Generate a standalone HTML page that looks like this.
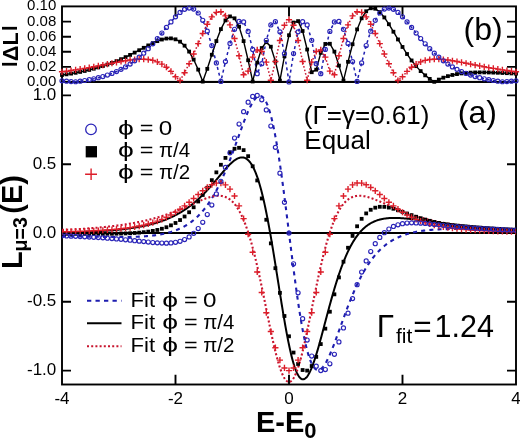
<!DOCTYPE html>
<html><head><meta charset="utf-8"><style>html,body{margin:0;padding:0;background:#fff;overflow:hidden}svg{display:block}text{font-family:"Liberation Sans",Arial,sans-serif;fill:#000}</style></head><body>
<svg width="520" height="438" viewBox="0 0 520 438">
<rect width="520" height="438" fill="#fff"/>
<defs><clipPath id="ca"><rect x="62" y="81.5" width="454" height="303"/></clipPath><clipPath id="cb"><rect x="62" y="5" width="454" height="77"/></clipPath></defs>
<g stroke="#000" stroke-width="1.9" fill="none">
<rect x="62" y="6.4" width="454" height="75.5"/>
<rect x="62" y="81.9" width="454" height="302.6"/>
<path d="M62 66.84h9M516 66.84h-9M62 51.78h9M516 51.78h-9M62 36.72h9M516 36.72h-9M62 21.66h9M516 21.66h-9M62 95.40h9M516 95.40h-9M62 164.20h9M516 164.20h-9M62 233.00h9M516 233.00h-9M62 301.80h9M516 301.80h-9M62 370.60h9M516 370.60h-9M175.50 6.4v10M175.50 384.5v-9.8M289.00 6.4v10M289.00 384.5v-9.8M402.50 6.4v10M402.50 384.5v-9.8"/>
</g>
<line x1="62" y1="233" x2="516" y2="233" stroke="#000" stroke-width="1.8"/>
<g clip-path="url(#ca)">
<polyline fill="none" stroke="#1e1eb0" stroke-width="2.1" stroke-dasharray="4,4.2" points="62.00,236.03 62.57,236.04 63.13,236.05 63.70,236.06 64.27,236.08 64.84,236.09 65.41,236.10 65.97,236.11 66.54,236.13 67.11,236.14 67.68,236.15 68.24,236.17 68.81,236.18 69.38,236.19 69.94,236.20 70.51,236.22 71.08,236.23 71.65,236.24 72.22,236.26 72.78,236.27 73.35,236.28 73.92,236.29 74.49,236.31 75.05,236.32 75.62,236.33 76.19,236.34 76.75,236.36 77.32,236.37 77.89,236.38 78.46,236.40 79.02,236.41 79.59,236.42 80.16,236.43 80.73,236.45 81.29,236.46 81.86,236.47 82.43,236.48 83.00,236.50 83.56,236.51 84.13,236.52 84.70,236.53 85.27,236.55 85.84,236.56 86.40,236.57 86.97,236.58 87.54,236.60 88.10,236.61 88.67,236.62 89.24,236.63 89.81,236.64 90.38,236.66 90.94,236.67 91.51,236.68 92.08,236.69 92.65,236.70 93.21,236.71 93.78,236.72 94.35,236.74 94.91,236.75 95.48,236.76 96.05,236.77 96.62,236.78 97.19,236.79 97.75,236.80 98.32,236.81 98.89,236.82 99.46,236.83 100.02,236.84 100.59,236.85 101.16,236.86 101.73,236.87 102.29,236.88 102.86,236.89 103.43,236.90 104.00,236.90 104.56,236.91 105.13,236.92 105.70,236.93 106.27,236.94 106.83,236.94 107.40,236.95 107.97,236.96 108.54,236.97 109.10,236.97 109.67,236.98 110.24,236.98 110.81,236.99 111.37,237.00 111.94,237.00 112.51,237.01 113.07,237.01 113.64,237.01 114.21,237.02 114.78,237.02 115.34,237.02 115.91,237.03 116.48,237.03 117.05,237.03 117.62,237.03 118.18,237.03 118.75,237.03 119.32,237.03 119.88,237.03 120.45,237.03 121.02,237.03 121.59,237.03 122.16,237.03 122.72,237.03 123.29,237.02 123.86,237.02 124.43,237.01 124.99,237.01 125.56,237.00 126.13,237.00 126.69,236.99 127.26,236.98 127.83,236.97 128.40,236.96 128.96,236.95 129.53,236.94 130.10,236.93 130.67,236.92 131.23,236.91 131.80,236.89 132.37,236.88 132.94,236.86 133.50,236.85 134.07,236.83 134.64,236.81 135.21,236.79 135.77,236.77 136.34,236.75 136.91,236.73 137.48,236.71 138.04,236.68 138.61,236.66 139.18,236.63 139.75,236.60 140.31,236.57 140.88,236.54 141.45,236.51 142.02,236.48 142.59,236.44 143.15,236.41 143.72,236.37 144.29,236.33 144.85,236.29 145.42,236.25 145.99,236.21 146.56,236.16 147.12,236.12 147.69,236.07 148.26,236.02 148.83,235.97 149.40,235.91 149.96,235.86 150.53,235.80 151.10,235.74 151.66,235.68 152.23,235.62 152.80,235.55 153.37,235.48 153.94,235.41 154.50,235.34 155.07,235.27 155.64,235.19 156.21,235.11 156.77,235.03 157.34,234.95 157.91,234.86 158.48,234.77 159.04,234.68 159.61,234.58 160.18,234.48 160.75,234.38 161.31,234.28 161.88,234.17 162.45,234.06 163.02,233.95 163.58,233.83 164.15,233.71 164.72,233.58 165.29,233.46 165.85,233.33 166.42,233.19 166.99,233.05 167.56,232.91 168.12,232.76 168.69,232.61 169.26,232.46 169.83,232.30 170.39,232.13 170.96,231.96 171.53,231.79 172.09,231.61 172.66,231.43 173.23,231.24 173.80,231.05 174.37,230.85 174.93,230.65 175.50,230.44 176.07,230.22 176.63,230.00 177.20,229.78 177.77,229.55 178.34,229.31 178.91,229.06 179.47,228.81 180.04,228.56 180.61,228.29 181.18,228.02 181.74,227.75 182.31,227.46 182.88,227.17 183.44,226.87 184.01,226.56 184.58,226.25 185.15,225.93 185.72,225.60 186.28,225.26 186.85,224.91 187.42,224.56 187.99,224.19 188.55,223.82 189.12,223.44 189.69,223.05 190.25,222.65 190.82,222.24 191.39,221.82 191.96,221.39 192.53,220.95 193.09,220.50 193.66,220.03 194.23,219.56 194.79,219.08 195.36,218.58 195.93,218.08 196.50,217.56 197.06,217.03 197.63,216.49 198.20,215.93 198.77,215.37 199.33,214.79 199.90,214.20 200.47,213.59 201.04,212.97 201.61,212.34 202.17,211.69 202.74,211.03 203.31,210.36 203.88,209.67 204.44,208.97 205.01,208.25 205.58,207.52 206.14,206.77 206.71,206.00 207.28,205.22 207.85,204.43 208.42,203.62 208.98,202.79 209.55,201.94 210.12,201.08 210.69,200.20 211.25,199.31 211.82,198.40 212.39,197.47 212.96,196.52 213.52,195.55 214.09,194.57 214.66,193.57 215.23,192.55 215.79,191.52 216.36,190.46 216.93,189.39 217.50,188.30 218.06,187.19 218.63,186.06 219.20,184.91 219.77,183.75 220.33,182.57 220.90,181.37 221.47,180.15 222.03,178.91 222.60,177.65 223.17,176.38 223.74,175.09 224.31,173.78 224.87,172.45 225.44,171.11 226.01,169.75 226.57,168.37 227.14,166.98 227.71,165.57 228.28,164.15 228.84,162.71 229.41,161.26 229.98,159.79 230.55,158.31 231.12,156.82 231.68,155.31 232.25,153.80 232.82,152.27 233.38,150.73 233.95,149.19 234.52,147.64 235.09,146.08 235.66,144.51 236.22,142.94 236.79,141.37 237.36,139.79 237.93,138.21 238.49,136.63 239.06,135.06 239.63,133.48 240.19,131.91 240.76,130.35 241.33,128.79 241.90,127.25 242.47,125.71 243.03,124.19 243.60,122.68 244.17,121.19 244.74,119.72 245.30,118.27 245.87,116.84 246.44,115.43 247.00,114.06 247.57,112.71 248.14,111.40 248.71,110.12 249.28,108.88 249.84,107.68 250.41,106.52 250.98,105.40 251.54,104.33 252.11,103.32 252.68,102.35 253.25,101.45 253.81,100.60 254.38,99.81 254.95,99.09 255.52,98.43 256.08,97.85 256.65,97.33 257.22,96.90 257.79,96.54 258.36,96.26 258.92,96.07 259.49,95.97 260.06,95.95 260.62,96.03 261.19,96.20 261.76,96.47 262.33,96.84 262.89,97.31 263.46,97.88 264.03,98.56 264.60,99.35 265.17,100.25 265.73,101.26 266.30,102.39 266.87,103.63 267.44,104.98 268.00,106.45 268.57,108.04 269.14,109.75 269.70,111.58 270.27,113.53 270.84,115.59 271.41,117.78 271.98,120.08 272.54,122.51 273.11,125.05 273.68,127.70 274.25,130.47 274.81,133.36 275.38,136.35 275.95,139.46 276.51,142.67 277.08,145.99 277.65,149.41 278.22,152.93 278.79,156.54 279.35,160.25 279.92,164.04 280.49,167.92 281.06,171.88 281.62,175.92 282.19,180.03 282.76,184.20 283.32,188.43 283.89,192.73 284.46,197.07 285.03,201.46 285.59,205.89 286.16,210.35 286.73,214.85 287.30,219.36 287.87,223.90 288.43,228.45 289.00,233.00 289.57,237.55 290.14,242.10 290.70,246.64 291.27,251.15 291.84,255.65 292.41,260.11 292.97,264.54 293.54,268.93 294.11,273.27 294.67,277.57 295.24,281.80 295.81,285.97 296.38,290.08 296.94,294.12 297.51,298.08 298.08,301.96 298.65,305.75 299.21,309.46 299.78,313.07 300.35,316.59 300.92,320.01 301.49,323.33 302.05,326.54 302.62,329.65 303.19,332.64 303.75,335.53 304.32,338.30 304.89,340.95 305.46,343.49 306.02,345.92 306.59,348.22 307.16,350.41 307.73,352.47 308.30,354.42 308.86,356.25 309.43,357.96 310.00,359.55 310.56,361.02 311.13,362.37 311.70,363.61 312.27,364.74 312.83,365.75 313.40,366.65 313.97,367.44 314.54,368.12 315.11,368.69 315.67,369.16 316.24,369.53 316.81,369.80 317.38,369.97 317.94,370.05 318.51,370.03 319.08,369.93 319.64,369.74 320.21,369.46 320.78,369.10 321.35,368.67 321.92,368.15 322.48,367.57 323.05,366.91 323.62,366.19 324.19,365.40 324.75,364.55 325.32,363.65 325.89,362.68 326.45,361.67 327.02,360.60 327.59,359.48 328.16,358.32 328.73,357.12 329.29,355.88 329.86,354.60 330.43,353.29 331.00,351.94 331.56,350.57 332.13,349.16 332.70,347.73 333.26,346.28 333.83,344.81 334.40,343.32 334.97,341.81 335.54,340.29 336.10,338.75 336.67,337.21 337.24,335.65 337.81,334.09 338.37,332.52 338.94,330.94 339.51,329.37 340.08,327.79 340.64,326.21 341.21,324.63 341.78,323.06 342.35,321.49 342.91,319.92 343.48,318.36 344.05,316.81 344.62,315.27 345.18,313.73 345.75,312.20 346.32,310.69 346.89,309.18 347.45,307.69 348.02,306.21 348.59,304.74 349.16,303.29 349.72,301.85 350.29,300.43 350.86,299.02 351.43,297.63 351.99,296.25 352.56,294.89 353.13,293.55 353.69,292.22 354.26,290.91 354.83,289.62 355.40,288.35 355.96,287.09 356.53,285.85 357.10,284.63 357.67,283.43 358.24,282.25 358.80,281.09 359.37,279.94 359.94,278.81 360.50,277.70 361.07,276.61 361.64,275.54 362.21,274.48 362.77,273.45 363.34,272.43 363.91,271.43 364.48,270.45 365.04,269.48 365.61,268.53 366.18,267.60 366.75,266.69 367.31,265.80 367.88,264.92 368.45,264.06 369.02,263.21 369.58,262.38 370.15,261.57 370.72,260.78 371.29,260.00 371.86,259.23 372.42,258.48 372.99,257.75 373.56,257.03 374.12,256.33 374.69,255.64 375.26,254.97 375.83,254.31 376.39,253.66 376.96,253.03 377.53,252.41 378.10,251.80 378.67,251.21 379.23,250.63 379.80,250.07 380.37,249.51 380.94,248.97 381.50,248.44 382.07,247.92 382.64,247.42 383.21,246.92 383.77,246.44 384.34,245.97 384.91,245.50 385.48,245.05 386.04,244.61 386.61,244.18 387.18,243.76 387.75,243.35 388.31,242.95 388.88,242.56 389.45,242.18 390.01,241.81 390.58,241.44 391.15,241.09 391.72,240.74 392.29,240.40 392.85,240.07 393.42,239.75 393.99,239.44 394.56,239.13 395.12,238.83 395.69,238.54 396.26,238.25 396.83,237.98 397.39,237.71 397.96,237.44 398.53,237.19 399.10,236.94 399.66,236.69 400.23,236.45 400.80,236.22 401.37,236.00 401.93,235.78 402.50,235.56 403.07,235.35 403.63,235.15 404.20,234.95 404.77,234.76 405.34,234.57 405.91,234.39 406.47,234.21 407.04,234.04 407.61,233.87 408.18,233.70 408.74,233.54 409.31,233.39 409.88,233.24 410.45,233.09 411.01,232.95 411.58,232.81 412.15,232.67 412.71,232.54 413.28,232.42 413.85,232.29 414.42,232.17 414.99,232.05 415.55,231.94 416.12,231.83 416.69,231.72 417.25,231.62 417.82,231.52 418.39,231.42 418.96,231.32 419.52,231.23 420.09,231.14 420.66,231.05 421.23,230.97 421.79,230.89 422.36,230.81 422.93,230.73 423.50,230.66 424.06,230.59 424.63,230.52 425.20,230.45 425.77,230.38 426.34,230.32 426.90,230.26 427.47,230.20 428.04,230.14 428.61,230.09 429.17,230.03 429.74,229.98 430.31,229.93 430.88,229.88 431.44,229.84 432.01,229.79 432.58,229.75 433.14,229.71 433.71,229.67 434.28,229.63 434.85,229.59 435.41,229.56 435.98,229.52 436.55,229.49 437.12,229.46 437.69,229.43 438.25,229.40 438.82,229.37 439.39,229.34 439.96,229.32 440.52,229.29 441.09,229.27 441.66,229.25 442.23,229.23 442.79,229.21 443.36,229.19 443.93,229.17 444.50,229.15 445.06,229.14 445.63,229.12 446.20,229.11 446.76,229.09 447.33,229.08 447.90,229.07 448.47,229.06 449.04,229.05 449.60,229.04 450.17,229.03 450.74,229.02 451.31,229.01 451.87,229.00 452.44,229.00 453.01,228.99 453.58,228.99 454.14,228.98 454.71,228.98 455.28,228.97 455.85,228.97 456.41,228.97 456.98,228.97 457.55,228.97 458.12,228.97 458.68,228.97 459.25,228.97 459.82,228.97 460.38,228.97 460.95,228.97 461.52,228.97 462.09,228.97 462.66,228.98 463.22,228.98 463.79,228.98 464.36,228.99 464.93,228.99 465.49,228.99 466.06,229.00 466.63,229.00 467.20,229.01 467.76,229.02 468.33,229.02 468.90,229.03 469.46,229.03 470.03,229.04 470.60,229.05 471.17,229.06 471.74,229.06 472.30,229.07 472.87,229.08 473.44,229.09 474.00,229.10 474.57,229.10 475.14,229.11 475.71,229.12 476.27,229.13 476.84,229.14 477.41,229.15 477.98,229.16 478.54,229.17 479.11,229.18 479.68,229.19 480.25,229.20 480.81,229.21 481.38,229.22 481.95,229.23 482.52,229.24 483.09,229.25 483.65,229.26 484.22,229.28 484.79,229.29 485.36,229.30 485.92,229.31 486.49,229.32 487.06,229.33 487.62,229.34 488.19,229.36 488.76,229.37 489.33,229.38 489.89,229.39 490.46,229.40 491.03,229.42 491.60,229.43 492.16,229.44 492.73,229.45 493.30,229.47 493.87,229.48 494.44,229.49 495.00,229.50 495.57,229.52 496.14,229.53 496.71,229.54 497.27,229.55 497.84,229.57 498.41,229.58 498.98,229.59 499.54,229.60 500.11,229.62 500.68,229.63 501.25,229.64 501.81,229.66 502.38,229.67 502.95,229.68 503.51,229.69 504.08,229.71 504.65,229.72 505.22,229.73 505.79,229.74 506.35,229.76 506.92,229.77 507.49,229.78 508.06,229.80 508.62,229.81 509.19,229.82 509.76,229.83 510.33,229.85 510.89,229.86 511.46,229.87 512.03,229.89 512.60,229.90 513.16,229.91 513.73,229.92 514.30,229.94 514.87,229.95 515.43,229.96 516.00,229.97"/>
<polyline fill="none" stroke="#000" stroke-width="2" points="62.00,232.52 62.57,232.51 63.13,232.50 63.70,232.49 64.27,232.48 64.84,232.46 65.41,232.45 65.97,232.44 66.54,232.42 67.11,232.41 67.68,232.40 68.24,232.38 68.81,232.37 69.38,232.35 69.94,232.34 70.51,232.32 71.08,232.31 71.65,232.29 72.22,232.28 72.78,232.26 73.35,232.25 73.92,232.23 74.49,232.21 75.05,232.20 75.62,232.18 76.19,232.16 76.75,232.14 77.32,232.13 77.89,232.11 78.46,232.09 79.02,232.07 79.59,232.05 80.16,232.03 80.73,232.01 81.29,231.99 81.86,231.97 82.43,231.95 83.00,231.93 83.56,231.91 84.13,231.89 84.70,231.86 85.27,231.84 85.84,231.82 86.40,231.80 86.97,231.77 87.54,231.75 88.10,231.73 88.67,231.70 89.24,231.68 89.81,231.65 90.38,231.63 90.94,231.60 91.51,231.57 92.08,231.55 92.65,231.52 93.21,231.49 93.78,231.46 94.35,231.43 94.91,231.40 95.48,231.37 96.05,231.34 96.62,231.31 97.19,231.28 97.75,231.25 98.32,231.22 98.89,231.19 99.46,231.15 100.02,231.12 100.59,231.09 101.16,231.05 101.73,231.02 102.29,230.98 102.86,230.94 103.43,230.91 104.00,230.87 104.56,230.83 105.13,230.79 105.70,230.75 106.27,230.71 106.83,230.67 107.40,230.63 107.97,230.59 108.54,230.55 109.10,230.50 109.67,230.46 110.24,230.41 110.81,230.37 111.37,230.32 111.94,230.28 112.51,230.23 113.07,230.18 113.64,230.13 114.21,230.08 114.78,230.03 115.34,229.98 115.91,229.93 116.48,229.87 117.05,229.82 117.62,229.76 118.18,229.71 118.75,229.65 119.32,229.59 119.88,229.53 120.45,229.47 121.02,229.41 121.59,229.35 122.16,229.29 122.72,229.22 123.29,229.16 123.86,229.09 124.43,229.03 124.99,228.96 125.56,228.89 126.13,228.82 126.69,228.75 127.26,228.68 127.83,228.60 128.40,228.53 128.96,228.45 129.53,228.37 130.10,228.30 130.67,228.22 131.23,228.13 131.80,228.05 132.37,227.97 132.94,227.88 133.50,227.80 134.07,227.71 134.64,227.62 135.21,227.53 135.77,227.43 136.34,227.34 136.91,227.24 137.48,227.15 138.04,227.05 138.61,226.95 139.18,226.84 139.75,226.74 140.31,226.63 140.88,226.53 141.45,226.42 142.02,226.31 142.59,226.19 143.15,226.08 143.72,225.96 144.29,225.84 144.85,225.72 145.42,225.60 145.99,225.48 146.56,225.35 147.12,225.22 147.69,225.09 148.26,224.96 148.83,224.82 149.40,224.69 149.96,224.55 150.53,224.40 151.10,224.26 151.66,224.11 152.23,223.96 152.80,223.81 153.37,223.66 153.94,223.50 154.50,223.34 155.07,223.18 155.64,223.01 156.21,222.85 156.77,222.68 157.34,222.50 157.91,222.33 158.48,222.15 159.04,221.97 159.61,221.78 160.18,221.60 160.75,221.41 161.31,221.21 161.88,221.01 162.45,220.81 163.02,220.61 163.58,220.40 164.15,220.19 164.72,219.98 165.29,219.76 165.85,219.54 166.42,219.32 166.99,219.09 167.56,218.86 168.12,218.62 168.69,218.38 169.26,218.14 169.83,217.89 170.39,217.64 170.96,217.38 171.53,217.12 172.09,216.86 172.66,216.59 173.23,216.32 173.80,216.04 174.37,215.76 174.93,215.48 175.50,215.19 176.07,214.89 176.63,214.60 177.20,214.29 177.77,213.98 178.34,213.67 178.91,213.35 179.47,213.03 180.04,212.70 180.61,212.37 181.18,212.03 181.74,211.69 182.31,211.34 182.88,210.98 183.44,210.62 184.01,210.26 184.58,209.89 185.15,209.51 185.72,209.13 186.28,208.74 186.85,208.35 187.42,207.95 187.99,207.55 188.55,207.14 189.12,206.72 189.69,206.30 190.25,205.87 190.82,205.44 191.39,205.00 191.96,204.55 192.53,204.10 193.09,203.64 193.66,203.18 194.23,202.71 194.79,202.23 195.36,201.75 195.93,201.26 196.50,200.77 197.06,200.26 197.63,199.76 198.20,199.24 198.77,198.72 199.33,198.19 199.90,197.66 200.47,197.12 201.04,196.58 201.61,196.02 202.17,195.47 202.74,194.90 203.31,194.33 203.88,193.76 204.44,193.17 205.01,192.59 205.58,191.99 206.14,191.39 206.71,190.79 207.28,190.18 207.85,189.56 208.42,188.94 208.98,188.32 209.55,187.69 210.12,187.05 210.69,186.41 211.25,185.77 211.82,185.12 212.39,184.47 212.96,183.81 213.52,183.15 214.09,182.49 214.66,181.82 215.23,181.15 215.79,180.48 216.36,179.81 216.93,179.14 217.50,178.46 218.06,177.79 218.63,177.11 219.20,176.43 219.77,175.76 220.33,175.08 220.90,174.41 221.47,173.74 222.03,173.07 222.60,172.40 223.17,171.74 223.74,171.08 224.31,170.43 224.87,169.78 225.44,169.14 226.01,168.50 226.57,167.87 227.14,167.25 227.71,166.65 228.28,166.05 228.84,165.46 229.41,164.88 229.98,164.32 230.55,163.77 231.12,163.23 231.68,162.71 232.25,162.21 232.82,161.73 233.38,161.26 233.95,160.82 234.52,160.39 235.09,159.99 235.66,159.61 236.22,159.26 236.79,158.93 237.36,158.64 237.93,158.37 238.49,158.13 239.06,157.92 239.63,157.75 240.19,157.61 240.76,157.50 241.33,157.44 241.90,157.41 242.47,157.42 243.03,157.48 243.60,157.58 244.17,157.72 244.74,157.91 245.30,158.15 245.87,158.44 246.44,158.78 247.00,159.17 247.57,159.62 248.14,160.13 248.71,160.69 249.28,161.31 249.84,161.99 250.41,162.73 250.98,163.54 251.54,164.41 252.11,165.34 252.68,166.35 253.25,167.42 253.81,168.56 254.38,169.77 254.95,171.05 255.52,172.41 256.08,173.84 256.65,175.34 257.22,176.92 257.79,178.58 258.36,180.31 258.92,182.11 259.49,184.00 260.06,185.96 260.62,187.99 261.19,190.11 261.76,192.30 262.33,194.56 262.89,196.90 263.46,199.32 264.03,201.81 264.60,204.37 265.17,207.01 265.73,209.71 266.30,212.49 266.87,215.33 267.44,218.24 268.00,221.21 268.57,224.24 269.14,227.33 269.70,230.48 270.27,233.69 270.84,236.94 271.41,240.24 271.98,243.59 272.54,246.98 273.11,250.41 273.68,253.87 274.25,257.37 274.81,260.89 275.38,264.43 275.95,268.00 276.51,271.58 277.08,275.17 277.65,278.76 278.22,282.36 278.79,285.95 279.35,289.54 279.92,293.11 280.49,296.67 281.06,300.21 281.62,303.72 282.19,307.20 282.76,310.64 283.32,314.04 283.89,317.40 284.46,320.70 285.03,323.96 285.59,327.15 286.16,330.28 286.73,333.34 287.30,336.33 287.87,339.24 288.43,342.07 289.00,344.82 289.57,347.49 290.14,350.06 290.70,352.54 291.27,354.92 291.84,357.20 292.41,359.38 292.97,361.45 293.54,363.41 294.11,365.27 294.67,367.02 295.24,368.65 295.81,370.17 296.38,371.57 296.94,372.86 297.51,374.03 298.08,375.08 298.65,376.02 299.21,376.84 299.78,377.54 300.35,378.13 300.92,378.60 301.49,378.95 302.05,379.19 302.62,379.32 303.19,379.34 303.75,379.25 304.32,379.05 304.89,378.75 305.46,378.34 306.02,377.83 306.59,377.22 307.16,376.52 307.73,375.72 308.30,374.83 308.86,373.86 309.43,372.80 310.00,371.66 310.56,370.44 311.13,369.14 311.70,367.77 312.27,366.34 312.83,364.84 313.40,363.27 313.97,361.65 314.54,359.97 315.11,358.24 315.67,356.46 316.24,354.63 316.81,352.77 317.38,350.86 317.94,348.92 318.51,346.94 319.08,344.93 319.64,342.90 320.21,340.84 320.78,338.77 321.35,336.67 321.92,334.56 322.48,332.43 323.05,330.30 323.62,328.16 324.19,326.01 324.75,323.86 325.32,321.72 325.89,319.57 326.45,317.42 327.02,315.29 327.59,313.16 328.16,311.04 328.73,308.93 329.29,306.83 329.86,304.75 330.43,302.69 331.00,300.64 331.56,298.61 332.13,296.61 332.70,294.62 333.26,292.66 333.83,290.71 334.40,288.80 334.97,286.91 335.54,285.04 336.10,283.20 336.67,281.39 337.24,279.61 337.81,277.86 338.37,276.13 338.94,274.43 339.51,272.77 340.08,271.13 340.64,269.52 341.21,267.95 341.78,266.40 342.35,264.89 342.91,263.40 343.48,261.95 344.05,260.53 344.62,259.14 345.18,257.78 345.75,256.45 346.32,255.15 346.89,253.88 347.45,252.64 348.02,251.43 348.59,250.25 349.16,249.10 349.72,247.97 350.29,246.88 350.86,245.81 351.43,244.78 351.99,243.77 352.56,242.78 353.13,241.83 353.69,240.90 354.26,240.00 354.83,239.12 355.40,238.27 355.96,237.44 356.53,236.64 357.10,235.86 357.67,235.11 358.24,234.37 358.80,233.66 359.37,232.98 359.94,232.31 360.50,231.67 361.07,231.05 361.64,230.44 362.21,229.86 362.77,229.30 363.34,228.76 363.91,228.23 364.48,227.73 365.04,227.24 365.61,226.77 366.18,226.31 366.75,225.88 367.31,225.45 367.88,225.05 368.45,224.66 369.02,224.29 369.58,223.93 370.15,223.58 370.72,223.25 371.29,222.93 371.86,222.63 372.42,222.34 372.99,222.06 373.56,221.79 374.12,221.53 374.69,221.29 375.26,221.06 375.83,220.84 376.39,220.63 376.96,220.43 377.53,220.24 378.10,220.05 378.67,219.88 379.23,219.72 379.80,219.57 380.37,219.42 380.94,219.29 381.50,219.16 382.07,219.04 382.64,218.92 383.21,218.82 383.77,218.72 384.34,218.63 384.91,218.54 385.48,218.46 386.04,218.39 386.61,218.33 387.18,218.27 387.75,218.21 388.31,218.16 388.88,218.12 389.45,218.08 390.01,218.05 390.58,218.02 391.15,217.99 391.72,217.97 392.29,217.96 392.85,217.94 393.42,217.94 393.99,217.93 394.56,217.93 395.12,217.94 395.69,217.94 396.26,217.95 396.83,217.97 397.39,217.98 397.96,218.00 398.53,218.02 399.10,218.05 399.66,218.08 400.23,218.11 400.80,218.14 401.37,218.17 401.93,218.21 402.50,218.25 403.07,218.29 403.63,218.34 404.20,218.38 404.77,218.43 405.34,218.48 405.91,218.53 406.47,218.58 407.04,218.63 407.61,218.69 408.18,218.74 408.74,218.80 409.31,218.86 409.88,218.92 410.45,218.98 411.01,219.04 411.58,219.10 412.15,219.16 412.71,219.23 413.28,219.29 413.85,219.36 414.42,219.43 414.99,219.50 415.55,219.56 416.12,219.63 416.69,219.70 417.25,219.77 417.82,219.84 418.39,219.91 418.96,219.98 419.52,220.05 420.09,220.13 420.66,220.20 421.23,220.27 421.79,220.34 422.36,220.42 422.93,220.49 423.50,220.56 424.06,220.64 424.63,220.71 425.20,220.78 425.77,220.86 426.34,220.93 426.90,221.01 427.47,221.08 428.04,221.15 428.61,221.23 429.17,221.30 429.74,221.37 430.31,221.45 430.88,221.52 431.44,221.59 432.01,221.67 432.58,221.74 433.14,221.81 433.71,221.89 434.28,221.96 434.85,222.03 435.41,222.10 435.98,222.18 436.55,222.25 437.12,222.32 437.69,222.39 438.25,222.46 438.82,222.53 439.39,222.60 439.96,222.67 440.52,222.74 441.09,222.81 441.66,222.88 442.23,222.95 442.79,223.02 443.36,223.09 443.93,223.15 444.50,223.22 445.06,223.29 445.63,223.36 446.20,223.42 446.76,223.49 447.33,223.56 447.90,223.62 448.47,223.69 449.04,223.75 449.60,223.82 450.17,223.88 450.74,223.94 451.31,224.01 451.87,224.07 452.44,224.13 453.01,224.19 453.58,224.26 454.14,224.32 454.71,224.38 455.28,224.44 455.85,224.50 456.41,224.56 456.98,224.62 457.55,224.68 458.12,224.74 458.68,224.79 459.25,224.85 459.82,224.91 460.38,224.97 460.95,225.02 461.52,225.08 462.09,225.14 462.66,225.19 463.22,225.25 463.79,225.30 464.36,225.36 464.93,225.41 465.49,225.46 466.06,225.52 466.63,225.57 467.20,225.62 467.76,225.68 468.33,225.73 468.90,225.78 469.46,225.83 470.03,225.88 470.60,225.93 471.17,225.98 471.74,226.03 472.30,226.08 472.87,226.13 473.44,226.18 474.00,226.23 474.57,226.27 475.14,226.32 475.71,226.37 476.27,226.41 476.84,226.46 477.41,226.51 477.98,226.55 478.54,226.60 479.11,226.64 479.68,226.69 480.25,226.73 480.81,226.78 481.38,226.82 481.95,226.86 482.52,226.91 483.09,226.95 483.65,226.99 484.22,227.03 484.79,227.07 485.36,227.12 485.92,227.16 486.49,227.20 487.06,227.24 487.62,227.28 488.19,227.32 488.76,227.36 489.33,227.40 489.89,227.43 490.46,227.47 491.03,227.51 491.60,227.55 492.16,227.59 492.73,227.62 493.30,227.66 493.87,227.70 494.44,227.73 495.00,227.77 495.57,227.81 496.14,227.84 496.71,227.88 497.27,227.91 497.84,227.95 498.41,227.98 498.98,228.02 499.54,228.05 500.11,228.08 500.68,228.12 501.25,228.15 501.81,228.18 502.38,228.21 502.95,228.25 503.51,228.28 504.08,228.31 504.65,228.34 505.22,228.37 505.79,228.41 506.35,228.44 506.92,228.47 507.49,228.50 508.06,228.53 508.62,228.56 509.19,228.59 509.76,228.62 510.33,228.65 510.89,228.67 511.46,228.70 512.03,228.73 512.60,228.76 513.16,228.79 513.73,228.82 514.30,228.84 514.87,228.87 515.43,228.90 516.00,228.93"/>
<polyline fill="none" stroke="#c8142e" stroke-width="2.1" stroke-dasharray="2,2.2" points="62.00,229.97 62.57,229.94 63.13,229.91 63.70,229.89 64.27,229.86 64.84,229.83 65.41,229.81 65.97,229.78 66.54,229.75 67.11,229.72 67.68,229.69 68.24,229.66 68.81,229.64 69.38,229.61 69.94,229.58 70.51,229.55 71.08,229.52 71.65,229.49 72.22,229.45 72.78,229.42 73.35,229.39 73.92,229.36 74.49,229.33 75.05,229.29 75.62,229.26 76.19,229.23 76.75,229.19 77.32,229.16 77.89,229.13 78.46,229.09 79.02,229.06 79.59,229.02 80.16,228.98 80.73,228.95 81.29,228.91 81.86,228.87 82.43,228.84 83.00,228.80 83.56,228.76 84.13,228.72 84.70,228.68 85.27,228.64 85.84,228.60 86.40,228.56 86.97,228.52 87.54,228.48 88.10,228.44 88.67,228.40 89.24,228.35 89.81,228.31 90.38,228.27 90.94,228.22 91.51,228.18 92.08,228.13 92.65,228.09 93.21,228.04 93.78,228.00 94.35,227.95 94.91,227.90 95.48,227.85 96.05,227.80 96.62,227.75 97.19,227.71 97.75,227.65 98.32,227.60 98.89,227.55 99.46,227.50 100.02,227.45 100.59,227.39 101.16,227.34 101.73,227.29 102.29,227.23 102.86,227.18 103.43,227.12 104.00,227.06 104.56,227.01 105.13,226.95 105.70,226.89 106.27,226.83 106.83,226.77 107.40,226.71 107.97,226.65 108.54,226.58 109.10,226.52 109.67,226.46 110.24,226.39 110.81,226.33 111.37,226.26 111.94,226.20 112.51,226.13 113.07,226.06 113.64,225.99 114.21,225.92 114.78,225.85 115.34,225.78 115.91,225.71 116.48,225.63 117.05,225.56 117.62,225.49 118.18,225.41 118.75,225.33 119.32,225.26 119.88,225.18 120.45,225.10 121.02,225.02 121.59,224.94 122.16,224.86 122.72,224.78 123.29,224.69 123.86,224.61 124.43,224.52 124.99,224.44 125.56,224.35 126.13,224.26 126.69,224.17 127.26,224.08 127.83,223.99 128.40,223.89 128.96,223.80 129.53,223.71 130.10,223.61 130.67,223.51 131.23,223.42 131.80,223.32 132.37,223.22 132.94,223.11 133.50,223.01 134.07,222.91 134.64,222.80 135.21,222.70 135.77,222.59 136.34,222.48 136.91,222.37 137.48,222.26 138.04,222.15 138.61,222.03 139.18,221.92 139.75,221.80 140.31,221.68 140.88,221.56 141.45,221.44 142.02,221.32 142.59,221.20 143.15,221.07 143.72,220.95 144.29,220.82 144.85,220.69 145.42,220.56 145.99,220.43 146.56,220.30 147.12,220.16 147.69,220.03 148.26,219.89 148.83,219.75 149.40,219.61 149.96,219.47 150.53,219.32 151.10,219.18 151.66,219.03 152.23,218.88 152.80,218.73 153.37,218.58 153.94,218.43 154.50,218.27 155.07,218.11 155.64,217.96 156.21,217.80 156.77,217.63 157.34,217.47 157.91,217.31 158.48,217.14 159.04,216.97 159.61,216.80 160.18,216.63 160.75,216.45 161.31,216.28 161.88,216.10 162.45,215.92 163.02,215.74 163.58,215.56 164.15,215.37 164.72,215.18 165.29,215.00 165.85,214.81 166.42,214.61 166.99,214.42 167.56,214.23 168.12,214.03 168.69,213.83 169.26,213.63 169.83,213.42 170.39,213.22 170.96,213.01 171.53,212.81 172.09,212.60 172.66,212.38 173.23,212.17 173.80,211.95 174.37,211.74 174.93,211.52 175.50,211.30 176.07,211.08 176.63,210.85 177.20,210.63 177.77,210.40 178.34,210.17 178.91,209.94 179.47,209.71 180.04,209.48 180.61,209.24 181.18,209.00 181.74,208.77 182.31,208.53 182.88,208.29 183.44,208.05 184.01,207.80 184.58,207.56 185.15,207.31 185.72,207.07 186.28,206.82 186.85,206.57 187.42,206.32 187.99,206.07 188.55,205.82 189.12,205.57 189.69,205.32 190.25,205.07 190.82,204.82 191.39,204.56 191.96,204.31 192.53,204.06 193.09,203.80 193.66,203.55 194.23,203.30 194.79,203.05 195.36,202.80 195.93,202.55 196.50,202.30 197.06,202.05 197.63,201.80 198.20,201.55 198.77,201.31 199.33,201.07 199.90,200.83 200.47,200.59 201.04,200.35 201.61,200.12 202.17,199.89 202.74,199.66 203.31,199.43 203.88,199.21 204.44,199.00 205.01,198.78 205.58,198.57 206.14,198.37 206.71,198.17 207.28,197.97 207.85,197.79 208.42,197.60 208.98,197.43 209.55,197.26 210.12,197.09 210.69,196.94 211.25,196.79 211.82,196.65 212.39,196.52 212.96,196.39 213.52,196.28 214.09,196.18 214.66,196.08 215.23,196.00 215.79,195.93 216.36,195.87 216.93,195.82 217.50,195.79 218.06,195.77 218.63,195.76 219.20,195.77 219.77,195.79 220.33,195.83 220.90,195.88 221.47,195.95 222.03,196.04 222.60,196.15 223.17,196.28 223.74,196.42 224.31,196.59 224.87,196.78 225.44,196.99 226.01,197.22 226.57,197.47 227.14,197.75 227.71,198.06 228.28,198.39 228.84,198.75 229.41,199.13 229.98,199.54 230.55,199.98 231.12,200.45 231.68,200.95 232.25,201.48 232.82,202.05 233.38,202.65 233.95,203.28 234.52,203.94 235.09,204.64 235.66,205.38 236.22,206.16 236.79,206.97 237.36,207.82 237.93,208.71 238.49,209.64 239.06,210.62 239.63,211.63 240.19,212.69 240.76,213.79 241.33,214.93 241.90,216.12 242.47,217.36 243.03,218.64 243.60,219.96 244.17,221.34 244.74,222.76 245.30,224.23 245.87,225.74 246.44,227.31 247.00,228.92 247.57,230.58 248.14,232.29 248.71,234.05 249.28,235.86 249.84,237.72 250.41,239.63 250.98,241.58 251.54,243.59 252.11,245.64 252.68,247.74 253.25,249.88 253.81,252.08 254.38,254.31 254.95,256.59 255.52,258.92 256.08,261.28 256.65,263.69 257.22,266.14 257.79,268.63 258.36,271.15 258.92,273.70 259.49,276.29 260.06,278.92 260.62,281.57 261.19,284.24 261.76,286.95 262.33,289.67 262.89,292.42 263.46,295.18 264.03,297.95 264.60,300.74 265.17,303.54 265.73,306.34 266.30,309.14 266.87,311.95 267.44,314.74 268.00,317.53 268.57,320.31 269.14,323.08 269.70,325.82 270.27,328.55 270.84,331.25 271.41,333.91 271.98,336.55 272.54,339.14 273.11,341.70 273.68,344.20 274.25,346.66 274.81,349.07 275.38,351.42 275.95,353.70 276.51,355.92 277.08,358.08 277.65,360.16 278.22,362.16 278.79,364.09 279.35,365.93 279.92,367.69 280.49,369.35 281.06,370.93 281.62,372.41 282.19,373.79 282.76,375.07 283.32,376.25 283.89,377.32 284.46,378.28 285.03,379.14 285.59,379.89 286.16,380.52 286.73,381.04 287.30,381.44 287.87,381.73 288.43,381.91 289.00,381.97 289.57,381.91 290.14,381.73 290.70,381.44 291.27,381.04 291.84,380.52 292.41,379.89 292.97,379.14 293.54,378.28 294.11,377.32 294.67,376.25 295.24,375.07 295.81,373.79 296.38,372.41 296.94,370.93 297.51,369.35 298.08,367.69 298.65,365.93 299.21,364.09 299.78,362.16 300.35,360.16 300.92,358.08 301.49,355.92 302.05,353.70 302.62,351.42 303.19,349.07 303.75,346.66 304.32,344.20 304.89,341.70 305.46,339.14 306.02,336.55 306.59,333.91 307.16,331.25 307.73,328.55 308.30,325.82 308.86,323.08 309.43,320.31 310.00,317.53 310.56,314.74 311.13,311.95 311.70,309.14 312.27,306.34 312.83,303.54 313.40,300.74 313.97,297.95 314.54,295.18 315.11,292.42 315.67,289.67 316.24,286.95 316.81,284.24 317.38,281.57 317.94,278.92 318.51,276.29 319.08,273.70 319.64,271.15 320.21,268.63 320.78,266.14 321.35,263.69 321.92,261.28 322.48,258.92 323.05,256.59 323.62,254.31 324.19,252.08 324.75,249.88 325.32,247.74 325.89,245.64 326.45,243.59 327.02,241.58 327.59,239.63 328.16,237.72 328.73,235.86 329.29,234.05 329.86,232.29 330.43,230.58 331.00,228.92 331.56,227.31 332.13,225.74 332.70,224.23 333.26,222.76 333.83,221.34 334.40,219.96 334.97,218.64 335.54,217.36 336.10,216.12 336.67,214.93 337.24,213.79 337.81,212.69 338.37,211.63 338.94,210.62 339.51,209.64 340.08,208.71 340.64,207.82 341.21,206.97 341.78,206.16 342.35,205.38 342.91,204.64 343.48,203.94 344.05,203.28 344.62,202.65 345.18,202.05 345.75,201.48 346.32,200.95 346.89,200.45 347.45,199.98 348.02,199.54 348.59,199.13 349.16,198.75 349.72,198.39 350.29,198.06 350.86,197.75 351.43,197.47 351.99,197.22 352.56,196.99 353.13,196.78 353.69,196.59 354.26,196.42 354.83,196.28 355.40,196.15 355.96,196.04 356.53,195.95 357.10,195.88 357.67,195.83 358.24,195.79 358.80,195.77 359.37,195.76 359.94,195.77 360.50,195.79 361.07,195.82 361.64,195.87 362.21,195.93 362.77,196.00 363.34,196.08 363.91,196.18 364.48,196.28 365.04,196.39 365.61,196.52 366.18,196.65 366.75,196.79 367.31,196.94 367.88,197.09 368.45,197.26 369.02,197.43 369.58,197.60 370.15,197.79 370.72,197.97 371.29,198.17 371.86,198.37 372.42,198.57 372.99,198.78 373.56,199.00 374.12,199.21 374.69,199.43 375.26,199.66 375.83,199.89 376.39,200.12 376.96,200.35 377.53,200.59 378.10,200.83 378.67,201.07 379.23,201.31 379.80,201.55 380.37,201.80 380.94,202.05 381.50,202.30 382.07,202.55 382.64,202.80 383.21,203.05 383.77,203.30 384.34,203.55 384.91,203.80 385.48,204.06 386.04,204.31 386.61,204.56 387.18,204.82 387.75,205.07 388.31,205.32 388.88,205.57 389.45,205.82 390.01,206.07 390.58,206.32 391.15,206.57 391.72,206.82 392.29,207.07 392.85,207.31 393.42,207.56 393.99,207.80 394.56,208.05 395.12,208.29 395.69,208.53 396.26,208.77 396.83,209.00 397.39,209.24 397.96,209.48 398.53,209.71 399.10,209.94 399.66,210.17 400.23,210.40 400.80,210.63 401.37,210.85 401.93,211.08 402.50,211.30 403.07,211.52 403.63,211.74 404.20,211.95 404.77,212.17 405.34,212.38 405.91,212.60 406.47,212.81 407.04,213.01 407.61,213.22 408.18,213.42 408.74,213.63 409.31,213.83 409.88,214.03 410.45,214.23 411.01,214.42 411.58,214.61 412.15,214.81 412.71,215.00 413.28,215.18 413.85,215.37 414.42,215.56 414.99,215.74 415.55,215.92 416.12,216.10 416.69,216.28 417.25,216.45 417.82,216.63 418.39,216.80 418.96,216.97 419.52,217.14 420.09,217.31 420.66,217.47 421.23,217.63 421.79,217.80 422.36,217.96 422.93,218.11 423.50,218.27 424.06,218.43 424.63,218.58 425.20,218.73 425.77,218.88 426.34,219.03 426.90,219.18 427.47,219.32 428.04,219.47 428.61,219.61 429.17,219.75 429.74,219.89 430.31,220.03 430.88,220.16 431.44,220.30 432.01,220.43 432.58,220.56 433.14,220.69 433.71,220.82 434.28,220.95 434.85,221.07 435.41,221.20 435.98,221.32 436.55,221.44 437.12,221.56 437.69,221.68 438.25,221.80 438.82,221.92 439.39,222.03 439.96,222.15 440.52,222.26 441.09,222.37 441.66,222.48 442.23,222.59 442.79,222.70 443.36,222.80 443.93,222.91 444.50,223.01 445.06,223.11 445.63,223.22 446.20,223.32 446.76,223.42 447.33,223.51 447.90,223.61 448.47,223.71 449.04,223.80 449.60,223.89 450.17,223.99 450.74,224.08 451.31,224.17 451.87,224.26 452.44,224.35 453.01,224.44 453.58,224.52 454.14,224.61 454.71,224.69 455.28,224.78 455.85,224.86 456.41,224.94 456.98,225.02 457.55,225.10 458.12,225.18 458.68,225.26 459.25,225.33 459.82,225.41 460.38,225.49 460.95,225.56 461.52,225.63 462.09,225.71 462.66,225.78 463.22,225.85 463.79,225.92 464.36,225.99 464.93,226.06 465.49,226.13 466.06,226.20 466.63,226.26 467.20,226.33 467.76,226.39 468.33,226.46 468.90,226.52 469.46,226.58 470.03,226.65 470.60,226.71 471.17,226.77 471.74,226.83 472.30,226.89 472.87,226.95 473.44,227.01 474.00,227.06 474.57,227.12 475.14,227.18 475.71,227.23 476.27,227.29 476.84,227.34 477.41,227.39 477.98,227.45 478.54,227.50 479.11,227.55 479.68,227.60 480.25,227.65 480.81,227.71 481.38,227.75 481.95,227.80 482.52,227.85 483.09,227.90 483.65,227.95 484.22,228.00 484.79,228.04 485.36,228.09 485.92,228.13 486.49,228.18 487.06,228.22 487.62,228.27 488.19,228.31 488.76,228.35 489.33,228.40 489.89,228.44 490.46,228.48 491.03,228.52 491.60,228.56 492.16,228.60 492.73,228.64 493.30,228.68 493.87,228.72 494.44,228.76 495.00,228.80 495.57,228.84 496.14,228.87 496.71,228.91 497.27,228.95 497.84,228.98 498.41,229.02 498.98,229.06 499.54,229.09 500.11,229.13 500.68,229.16 501.25,229.19 501.81,229.23 502.38,229.26 502.95,229.29 503.51,229.33 504.08,229.36 504.65,229.39 505.22,229.42 505.79,229.45 506.35,229.49 506.92,229.52 507.49,229.55 508.06,229.58 508.62,229.61 509.19,229.64 509.76,229.66 510.33,229.69 510.89,229.72 511.46,229.75 512.03,229.78 512.60,229.81 513.16,229.83 513.73,229.86 514.30,229.89 514.87,229.91 515.43,229.94 516.00,229.97"/>
</g>
<g clip-path="url(#ca)">
<g fill="#000"><rect x="60.10" y="231.89" width="3.80" height="3.80"/><rect x="64.64" y="231.91" width="3.80" height="3.80"/><rect x="69.18" y="231.92" width="3.80" height="3.80"/><rect x="73.72" y="231.94" width="3.80" height="3.80"/><rect x="78.26" y="231.95" width="3.80" height="3.80"/><rect x="82.80" y="231.96" width="3.80" height="3.80"/><rect x="87.34" y="231.97" width="3.80" height="3.80"/><rect x="91.88" y="231.97" width="3.80" height="3.80"/><rect x="96.42" y="231.96" width="3.80" height="3.80"/><rect x="100.96" y="231.94" width="3.80" height="3.80"/><rect x="105.50" y="231.90" width="3.80" height="3.80"/><rect x="110.04" y="231.85" width="3.80" height="3.80"/><rect x="114.58" y="231.77" width="3.80" height="3.80"/><rect x="119.12" y="231.66" width="3.80" height="3.80"/><rect x="123.66" y="231.52" width="3.80" height="3.80"/><rect x="128.20" y="231.33" width="3.80" height="3.80"/><rect x="132.74" y="231.07" width="3.80" height="3.80"/><rect x="137.28" y="230.73" width="3.80" height="3.80"/><rect x="141.82" y="230.29" width="3.80" height="3.80"/><rect x="146.36" y="229.73" width="3.80" height="3.80"/><rect x="150.90" y="228.99" width="3.80" height="3.80"/><rect x="155.44" y="228.05" width="3.80" height="3.80"/><rect x="159.98" y="226.86" width="3.80" height="3.80"/><rect x="164.52" y="225.34" width="3.80" height="3.80"/><rect x="169.06" y="223.44" width="3.80" height="3.80"/><rect x="173.60" y="221.07" width="3.80" height="3.80"/><rect x="178.14" y="218.15" width="3.80" height="3.80"/><rect x="182.68" y="214.61" width="3.80" height="3.80"/><rect x="187.22" y="210.36" width="3.80" height="3.80"/><rect x="191.76" y="205.36" width="3.80" height="3.80"/><rect x="196.30" y="199.58" width="3.80" height="3.80"/><rect x="200.84" y="193.06" width="3.80" height="3.80"/><rect x="205.38" y="185.89" width="3.80" height="3.80"/><rect x="209.92" y="178.26" width="3.80" height="3.80"/><rect x="214.46" y="170.45" width="3.80" height="3.80"/><rect x="219.00" y="162.87" width="3.80" height="3.80"/><rect x="223.54" y="156.00" width="3.80" height="3.80"/><rect x="228.08" y="150.45" width="3.80" height="3.80"/><rect x="232.62" y="146.87" width="3.80" height="3.80"/><rect x="237.16" y="145.92" width="3.80" height="3.80"/><rect x="241.70" y="148.22" width="3.80" height="3.80"/><rect x="246.24" y="154.27" width="3.80" height="3.80"/><rect x="250.78" y="164.37" width="3.80" height="3.80"/><rect x="255.32" y="178.56" width="3.80" height="3.80"/><rect x="259.86" y="196.58" width="3.80" height="3.80"/><rect x="264.40" y="217.85" width="3.80" height="3.80"/><rect x="268.94" y="241.47" width="3.80" height="3.80"/><rect x="273.48" y="266.29" width="3.80" height="3.80"/><rect x="278.02" y="290.96" width="3.80" height="3.80"/><rect x="282.56" y="314.11" width="3.80" height="3.80"/><rect x="287.10" y="334.40" width="3.80" height="3.80"/><rect x="291.64" y="350.67" width="3.80" height="3.80"/><rect x="296.18" y="362.08" width="3.80" height="3.80"/><rect x="300.72" y="368.12" width="3.80" height="3.80"/><rect x="305.26" y="368.70" width="3.80" height="3.80"/><rect x="309.80" y="364.11" width="3.80" height="3.80"/><rect x="314.34" y="354.97" width="3.80" height="3.80"/><rect x="318.88" y="342.17" width="3.80" height="3.80"/><rect x="323.42" y="326.75" width="3.80" height="3.80"/><rect x="327.96" y="309.82" width="3.80" height="3.80"/><rect x="332.50" y="292.43" width="3.80" height="3.80"/><rect x="337.04" y="275.51" width="3.80" height="3.80"/><rect x="341.58" y="259.80" width="3.80" height="3.80"/><rect x="346.12" y="245.86" width="3.80" height="3.80"/><rect x="350.66" y="234.00" width="3.80" height="3.80"/><rect x="355.20" y="224.37" width="3.80" height="3.80"/><rect x="359.74" y="216.92" width="3.80" height="3.80"/><rect x="364.28" y="211.51" width="3.80" height="3.80"/><rect x="368.82" y="207.89" width="3.80" height="3.80"/><rect x="373.36" y="205.79" width="3.80" height="3.80"/><rect x="377.90" y="204.90" width="3.80" height="3.80"/><rect x="382.44" y="204.95" width="3.80" height="3.80"/><rect x="386.98" y="205.68" width="3.80" height="3.80"/><rect x="391.52" y="206.87" width="3.80" height="3.80"/><rect x="396.06" y="208.35" width="3.80" height="3.80"/><rect x="400.60" y="209.97" width="3.80" height="3.80"/><rect x="405.14" y="211.64" width="3.80" height="3.80"/><rect x="409.68" y="213.28" width="3.80" height="3.80"/><rect x="414.22" y="214.86" width="3.80" height="3.80"/><rect x="418.76" y="216.33" width="3.80" height="3.80"/><rect x="423.30" y="217.69" width="3.80" height="3.80"/><rect x="427.84" y="218.92" width="3.80" height="3.80"/><rect x="432.38" y="220.04" width="3.80" height="3.80"/><rect x="436.92" y="221.05" width="3.80" height="3.80"/><rect x="441.46" y="221.96" width="3.80" height="3.80"/><rect x="446.00" y="222.77" width="3.80" height="3.80"/><rect x="450.54" y="223.50" width="3.80" height="3.80"/><rect x="455.08" y="224.15" width="3.80" height="3.80"/><rect x="459.62" y="224.73" width="3.80" height="3.80"/><rect x="464.16" y="225.25" width="3.80" height="3.80"/><rect x="468.70" y="225.72" width="3.80" height="3.80"/><rect x="473.24" y="226.14" width="3.80" height="3.80"/><rect x="477.78" y="226.52" width="3.80" height="3.80"/><rect x="482.32" y="226.87" width="3.80" height="3.80"/><rect x="486.86" y="227.18" width="3.80" height="3.80"/><rect x="491.40" y="227.46" width="3.80" height="3.80"/><rect x="495.94" y="227.71" width="3.80" height="3.80"/><rect x="500.48" y="227.95" width="3.80" height="3.80"/><rect x="505.02" y="228.16" width="3.80" height="3.80"/><rect x="509.56" y="228.35" width="3.80" height="3.80"/><rect x="514.10" y="228.53" width="3.80" height="3.80"/></g>
<path fill="none" stroke="#dc1e2a" stroke-width="1.4" d="M58.90 231.81h6.20M62.00 228.71v6.20M63.44 231.71h6.20M66.54 228.61v6.20M67.98 231.59h6.20M71.08 228.49v6.20M72.52 231.46h6.20M75.62 228.36v6.20M77.06 231.31h6.20M80.16 228.21v6.20M81.60 231.15h6.20M84.70 228.05v6.20M86.14 230.97h6.20M89.24 227.87v6.20M90.68 230.76h6.20M93.78 227.66v6.20M95.22 230.52h6.20M98.32 227.42v6.20M99.76 230.26h6.20M102.86 227.16v6.20M104.30 229.95h6.20M107.40 226.85v6.20M108.84 229.60h6.20M111.94 226.50v6.20M113.38 229.20h6.20M116.48 226.10v6.20M117.92 228.75h6.20M121.02 225.65v6.20M122.46 228.22h6.20M125.56 225.12v6.20M127.00 227.60h6.20M130.10 224.50v6.20M131.54 226.89h6.20M134.64 223.79v6.20M136.08 226.07h6.20M139.18 222.97v6.20M140.62 225.10h6.20M143.72 222.00v6.20M145.16 223.97h6.20M148.26 220.87v6.20M149.70 222.66h6.20M152.80 219.56v6.20M154.24 221.13h6.20M157.34 218.03v6.20M158.78 219.35h6.20M161.88 216.25v6.20M163.32 217.30h6.20M166.42 214.20v6.20M167.86 214.93h6.20M170.96 211.83v6.20M172.40 212.24h6.20M175.50 209.14v6.20M176.94 209.22h6.20M180.04 206.12v6.20M181.48 205.88h6.20M184.58 202.78v6.20M186.02 202.26h6.20M189.12 199.16v6.20M190.56 198.44h6.20M193.66 195.34v6.20M195.10 194.56h6.20M198.20 191.46v6.20M199.64 190.80h6.20M202.74 187.70v6.20M204.18 187.43h6.20M207.28 184.33v6.20M208.72 184.76h6.20M211.82 181.66v6.20M213.26 183.16h6.20M216.36 180.06v6.20M217.80 183.07h6.20M220.90 179.97v6.20M222.34 184.91h6.20M225.44 181.81v6.20M226.88 189.12h6.20M229.98 186.02v6.20M231.42 196.02h6.20M234.52 192.92v6.20M235.96 205.85h6.20M239.06 202.75v6.20M240.50 218.65h6.20M243.60 215.55v6.20M245.04 234.26h6.20M248.14 231.16v6.20M249.58 252.26h6.20M252.68 249.16v6.20M254.12 271.98h6.20M257.22 268.88v6.20M258.66 292.51h6.20M261.76 289.41v6.20M263.20 312.76h6.20M266.30 309.66v6.20M267.74 331.56h6.20M270.84 328.46v6.20M272.28 347.70h6.20M275.38 344.60v6.20M276.82 360.11h6.20M279.92 357.01v6.20M281.36 367.93h6.20M284.46 364.83v6.20M285.90 370.60h6.20M289.00 367.50v6.20M290.44 367.93h6.20M293.54 364.83v6.20M294.98 360.11h6.20M298.08 357.01v6.20M299.52 347.70h6.20M302.62 344.60v6.20M304.06 331.56h6.20M307.16 328.46v6.20M308.60 312.76h6.20M311.70 309.66v6.20M313.14 292.51h6.20M316.24 289.41v6.20M317.68 271.98h6.20M320.78 268.88v6.20M322.22 252.26h6.20M325.32 249.16v6.20M326.76 234.26h6.20M329.86 231.16v6.20M331.30 218.65h6.20M334.40 215.55v6.20M335.84 205.85h6.20M338.94 202.75v6.20M340.38 196.02h6.20M343.48 192.92v6.20M344.92 189.12h6.20M348.02 186.02v6.20M349.46 184.91h6.20M352.56 181.81v6.20M354.00 183.07h6.20M357.10 179.97v6.20M358.54 183.16h6.20M361.64 180.06v6.20M363.08 184.76h6.20M366.18 181.66v6.20M367.62 187.43h6.20M370.72 184.33v6.20M372.16 190.80h6.20M375.26 187.70v6.20M376.70 194.56h6.20M379.80 191.46v6.20M381.24 198.44h6.20M384.34 195.34v6.20M385.78 202.26h6.20M388.88 199.16v6.20M390.32 205.88h6.20M393.42 202.78v6.20M394.86 209.22h6.20M397.96 206.12v6.20M399.40 212.24h6.20M402.50 209.14v6.20M403.94 214.93h6.20M407.04 211.83v6.20M408.48 217.30h6.20M411.58 214.20v6.20M413.02 219.35h6.20M416.12 216.25v6.20M417.56 221.13h6.20M420.66 218.03v6.20M422.10 222.66h6.20M425.20 219.56v6.20M426.64 223.97h6.20M429.74 220.87v6.20M431.18 225.10h6.20M434.28 222.00v6.20M435.72 226.07h6.20M438.82 222.97v6.20M440.26 226.89h6.20M443.36 223.79v6.20M444.80 227.60h6.20M447.90 224.50v6.20M449.34 228.22h6.20M452.44 225.12v6.20M453.88 228.75h6.20M456.98 225.65v6.20M458.42 229.20h6.20M461.52 226.10v6.20M462.96 229.60h6.20M466.06 226.50v6.20M467.50 229.95h6.20M470.60 226.85v6.20M472.04 230.26h6.20M475.14 227.16v6.20M476.58 230.52h6.20M479.68 227.42v6.20M481.12 230.76h6.20M484.22 227.66v6.20M485.66 230.97h6.20M488.76 227.87v6.20M490.20 231.15h6.20M493.30 228.05v6.20M494.74 231.31h6.20M497.84 228.21v6.20M499.28 231.46h6.20M502.38 228.36v6.20M503.82 231.59h6.20M506.92 228.49v6.20M508.36 231.71h6.20M511.46 228.61v6.20M512.90 231.81h6.20M516.00 228.71v6.20"/>
<g fill="none" stroke="#2a24b8" stroke-width="1.15"><circle cx="62.00" cy="235.82" r="2.05"/><circle cx="66.54" cy="235.99" r="2.05"/><circle cx="71.08" cy="236.17" r="2.05"/><circle cx="75.62" cy="236.36" r="2.05"/><circle cx="80.16" cy="236.57" r="2.05"/><circle cx="84.70" cy="236.79" r="2.05"/><circle cx="89.24" cy="237.03" r="2.05"/><circle cx="93.78" cy="237.29" r="2.05"/><circle cx="98.32" cy="237.57" r="2.05"/><circle cx="102.86" cy="237.87" r="2.05"/><circle cx="107.40" cy="238.20" r="2.05"/><circle cx="111.94" cy="238.55" r="2.05"/><circle cx="116.48" cy="238.92" r="2.05"/><circle cx="121.02" cy="239.32" r="2.05"/><circle cx="125.56" cy="239.75" r="2.05"/><circle cx="130.10" cy="240.19" r="2.05"/><circle cx="134.64" cy="240.66" r="2.05"/><circle cx="139.18" cy="241.14" r="2.05"/><circle cx="143.72" cy="241.62" r="2.05"/><circle cx="148.26" cy="242.09" r="2.05"/><circle cx="152.80" cy="242.51" r="2.05"/><circle cx="157.34" cy="242.86" r="2.05"/><circle cx="161.88" cy="243.09" r="2.05"/><circle cx="166.42" cy="243.14" r="2.05"/><circle cx="170.96" cy="242.92" r="2.05"/><circle cx="175.50" cy="242.34" r="2.05"/><circle cx="180.04" cy="241.25" r="2.05"/><circle cx="184.58" cy="239.51" r="2.05"/><circle cx="189.12" cy="236.94" r="2.05"/><circle cx="193.66" cy="233.34" r="2.05"/><circle cx="198.20" cy="228.53" r="2.05"/><circle cx="202.74" cy="222.29" r="2.05"/><circle cx="207.28" cy="214.50" r="2.05"/><circle cx="211.82" cy="205.04" r="2.05"/><circle cx="216.36" cy="193.92" r="2.05"/><circle cx="220.90" cy="181.28" r="2.05"/><circle cx="225.44" cy="167.40" r="2.05"/><circle cx="229.98" cy="152.76" r="2.05"/><circle cx="234.52" cy="138.02" r="2.05"/><circle cx="239.06" cy="124.01" r="2.05"/><circle cx="243.60" cy="111.72" r="2.05"/><circle cx="248.14" cy="102.18" r="2.05"/><circle cx="252.68" cy="96.43" r="2.05"/><circle cx="257.22" cy="95.40" r="2.05"/><circle cx="261.76" cy="99.79" r="2.05"/><circle cx="266.30" cy="109.99" r="2.05"/><circle cx="270.84" cy="126.00" r="2.05"/><circle cx="275.38" cy="147.35" r="2.05"/><circle cx="279.92" cy="173.19" r="2.05"/><circle cx="284.46" cy="202.25" r="2.05"/><circle cx="289.00" cy="233.00" r="2.05"/><circle cx="293.54" cy="263.75" r="2.05"/><circle cx="298.08" cy="292.81" r="2.05"/><circle cx="302.62" cy="318.65" r="2.05"/><circle cx="307.16" cy="340.00" r="2.05"/><circle cx="311.70" cy="356.01" r="2.05"/><circle cx="316.24" cy="366.21" r="2.05"/><circle cx="320.78" cy="370.60" r="2.05"/><circle cx="325.32" cy="369.57" r="2.05"/><circle cx="329.86" cy="363.82" r="2.05"/><circle cx="334.40" cy="354.28" r="2.05"/><circle cx="338.94" cy="341.99" r="2.05"/><circle cx="343.48" cy="327.98" r="2.05"/><circle cx="348.02" cy="313.24" r="2.05"/><circle cx="352.56" cy="298.60" r="2.05"/><circle cx="357.10" cy="284.72" r="2.05"/><circle cx="361.64" cy="272.08" r="2.05"/><circle cx="366.18" cy="260.96" r="2.05"/><circle cx="370.72" cy="251.50" r="2.05"/><circle cx="375.26" cy="243.71" r="2.05"/><circle cx="379.80" cy="237.47" r="2.05"/><circle cx="384.34" cy="232.66" r="2.05"/><circle cx="388.88" cy="229.06" r="2.05"/><circle cx="393.42" cy="226.49" r="2.05"/><circle cx="397.96" cy="224.75" r="2.05"/><circle cx="402.50" cy="223.66" r="2.05"/><circle cx="407.04" cy="223.08" r="2.05"/><circle cx="411.58" cy="222.86" r="2.05"/><circle cx="416.12" cy="222.91" r="2.05"/><circle cx="420.66" cy="223.14" r="2.05"/><circle cx="425.20" cy="223.49" r="2.05"/><circle cx="429.74" cy="223.91" r="2.05"/><circle cx="434.28" cy="224.38" r="2.05"/><circle cx="438.82" cy="224.86" r="2.05"/><circle cx="443.36" cy="225.34" r="2.05"/><circle cx="447.90" cy="225.81" r="2.05"/><circle cx="452.44" cy="226.25" r="2.05"/><circle cx="456.98" cy="226.68" r="2.05"/><circle cx="461.52" cy="227.08" r="2.05"/><circle cx="466.06" cy="227.45" r="2.05"/><circle cx="470.60" cy="227.80" r="2.05"/><circle cx="475.14" cy="228.13" r="2.05"/><circle cx="479.68" cy="228.43" r="2.05"/><circle cx="484.22" cy="228.71" r="2.05"/><circle cx="488.76" cy="228.97" r="2.05"/><circle cx="493.30" cy="229.21" r="2.05"/><circle cx="497.84" cy="229.43" r="2.05"/><circle cx="502.38" cy="229.64" r="2.05"/><circle cx="506.92" cy="229.83" r="2.05"/><circle cx="511.46" cy="230.01" r="2.05"/><circle cx="516.00" cy="230.18" r="2.05"/></g>
</g>
<g>
<polyline fill="none" stroke="#1e1eb0" stroke-width="1.5" stroke-dasharray="3,3" points="62.00,80.79 66.54,81.14 71.08,81.56 75.62,81.75 80.16,81.18 84.70,80.50 89.24,79.72 93.78,78.80 98.32,77.74 102.86,76.51 107.40,75.08 111.94,73.44 116.48,71.55 121.02,69.37 125.56,66.88 130.10,64.05 134.64,60.83 139.18,57.21 143.72,53.17 148.26,48.70 152.80,43.82 157.34,38.58 161.88,33.07 166.42,27.45 170.96,21.92 175.50,16.79 180.04,12.45 184.58,9.35 189.12,8.03 193.66,9.06 198.20,13.00 202.74,20.28 207.28,31.16 211.82,45.56 216.36,62.97 220.90,81.42 225.44,61.60 229.98,43.43 234.52,29.27 239.06,21.47 243.60,21.90 248.14,31.43 252.68,49.48 257.22,73.71 261.76,63.70 266.30,40.27 270.84,24.97 275.38,21.71 279.92,31.85 284.46,53.54 289.00,81.90 293.54,53.54 298.08,31.85 302.62,21.71 307.16,24.97 311.70,40.27 316.24,63.70 320.78,73.71 325.32,49.48 329.86,31.43 334.40,21.90 338.94,21.47 343.48,29.27 348.02,43.43 352.56,61.60 357.10,81.42 361.64,62.97 366.18,45.56 370.72,31.16 375.26,20.28 379.80,13.00 384.34,9.06 388.88,8.03 393.42,9.35 397.96,12.45 402.50,16.79 407.04,21.92 411.58,27.45 416.12,33.07 420.66,38.58 425.20,43.82 429.74,48.70 434.28,53.17 438.82,57.21 443.36,60.83 447.90,64.05 452.44,66.88 456.98,69.37 461.52,71.55 466.06,73.44 470.60,75.08 475.14,76.51 479.68,77.74 484.22,78.80 488.76,79.72 493.30,80.50 497.84,81.18 502.38,81.75 506.92,81.56 511.46,81.14 516.00,80.79"/>
<polyline fill="none" stroke="#000" stroke-width="1.4" points="62.00,75.00 66.54,74.33 71.08,73.60 75.62,72.80 80.16,71.92 84.70,70.96 89.24,69.90 93.78,68.73 98.32,67.46 102.86,66.07 107.40,64.55 111.94,62.90 116.48,61.11 121.02,59.18 125.56,57.11 130.10,54.91 134.64,52.61 139.18,50.22 143.72,47.80 148.26,45.41 152.80,43.15 157.34,41.14 161.88,39.53 166.42,38.54 170.96,38.38 175.50,39.33 180.04,41.67 184.58,45.67 189.12,51.59 193.66,59.57 198.20,69.63 202.74,81.58 207.28,68.83 211.82,54.76 216.36,41.09 220.90,29.14 225.44,20.43 229.98,16.42 234.52,18.30 239.06,26.64 243.60,41.11 248.14,60.25 252.68,81.46 257.22,62.56 261.76,48.06 266.30,42.15 270.84,46.71 275.38,61.37 279.92,80.52 284.46,56.22 289.00,35.23 293.54,22.56 298.08,21.13 302.62,31.00 307.16,49.52 311.70,72.22 316.24,69.69 320.78,52.90 325.32,43.95 329.86,43.77 334.40,51.63 338.94,65.62 343.48,80.55 348.02,61.83 352.56,44.24 357.10,29.40 361.64,18.29 366.18,11.28 370.72,8.25 375.26,8.73 379.80,12.05 384.34,17.45 388.88,24.23 393.42,31.73 397.96,39.45 402.50,46.97 407.04,54.03 411.58,60.46 416.12,66.16 420.66,71.11 425.20,75.34 429.74,78.89 434.28,81.82 438.82,79.59 443.36,77.67 447.90,76.15 452.44,74.97 456.98,74.08 461.52,73.42 466.06,72.95 470.60,72.65 475.14,72.47 479.68,72.40 484.22,72.41 488.76,72.48 493.30,72.61 497.84,72.77 502.38,72.97 506.92,73.18 511.46,73.42 516.00,73.66"/>
<polyline fill="none" stroke="#c8142e" stroke-width="1.5" stroke-dasharray="1.6,2" points="62.00,71.80 66.54,71.19 71.08,70.55 75.62,69.87 80.16,69.15 84.70,68.40 89.24,67.60 93.78,66.78 98.32,65.92 102.86,65.04 107.40,64.15 111.94,63.25 116.48,62.36 121.02,61.51 125.56,60.73 130.10,60.05 134.64,59.52 139.18,59.20 143.72,59.18 148.26,59.54 152.80,60.39 157.34,61.87 161.88,64.09 166.42,67.22 170.96,71.39 175.50,76.73 180.04,80.51 184.58,72.70 189.12,63.76 193.66,53.93 198.20,43.62 202.74,33.44 207.28,24.20 211.82,16.83 216.36,12.37 220.90,11.78 225.44,15.84 229.98,24.85 234.52,38.53 239.06,55.79 243.60,74.71 248.14,71.14 252.68,57.15 257.22,49.95 261.76,51.47 266.30,62.09 270.84,80.20 275.38,61.55 279.92,40.43 284.46,25.23 289.00,19.70 293.54,25.23 298.08,40.43 302.62,61.55 307.16,80.20 311.70,62.09 316.24,51.47 320.78,49.95 325.32,57.15 329.86,71.14 334.40,74.71 338.94,55.79 343.48,38.53 348.02,24.85 352.56,15.84 357.10,11.78 361.64,12.37 366.18,16.83 370.72,24.20 375.26,33.44 379.80,43.62 384.34,53.93 388.88,63.76 393.42,72.70 397.96,80.51 402.50,76.73 407.04,71.39 411.58,67.22 416.12,64.09 420.66,61.87 425.20,60.39 429.74,59.54 434.28,59.18 438.82,59.20 443.36,59.52 447.90,60.05 452.44,60.73 456.98,61.51 461.52,62.36 466.06,63.25 470.60,64.15 475.14,65.04 479.68,65.92 484.22,66.78 488.76,67.60 493.30,68.40 497.84,69.15 502.38,69.87 506.92,70.55 511.46,71.19 516.00,71.80"/>
<g fill="#000"><rect x="60.10" y="73.10" width="3.80" height="3.80"/><rect x="64.64" y="72.43" width="3.80" height="3.80"/><rect x="69.18" y="71.70" width="3.80" height="3.80"/><rect x="73.72" y="70.90" width="3.80" height="3.80"/><rect x="78.26" y="70.02" width="3.80" height="3.80"/><rect x="82.80" y="69.06" width="3.80" height="3.80"/><rect x="87.34" y="68.00" width="3.80" height="3.80"/><rect x="91.88" y="66.83" width="3.80" height="3.80"/><rect x="96.42" y="65.56" width="3.80" height="3.80"/><rect x="100.96" y="64.17" width="3.80" height="3.80"/><rect x="105.50" y="62.65" width="3.80" height="3.80"/><rect x="110.04" y="61.00" width="3.80" height="3.80"/><rect x="114.58" y="59.21" width="3.80" height="3.80"/><rect x="119.12" y="57.28" width="3.80" height="3.80"/><rect x="123.66" y="55.21" width="3.80" height="3.80"/><rect x="128.20" y="53.01" width="3.80" height="3.80"/><rect x="132.74" y="50.71" width="3.80" height="3.80"/><rect x="137.28" y="48.32" width="3.80" height="3.80"/><rect x="141.82" y="45.90" width="3.80" height="3.80"/><rect x="146.36" y="43.51" width="3.80" height="3.80"/><rect x="150.90" y="41.25" width="3.80" height="3.80"/><rect x="155.44" y="39.24" width="3.80" height="3.80"/><rect x="159.98" y="37.63" width="3.80" height="3.80"/><rect x="164.52" y="36.64" width="3.80" height="3.80"/><rect x="169.06" y="36.48" width="3.80" height="3.80"/><rect x="173.60" y="37.43" width="3.80" height="3.80"/><rect x="178.14" y="39.77" width="3.80" height="3.80"/><rect x="182.68" y="43.77" width="3.80" height="3.80"/><rect x="187.22" y="49.69" width="3.80" height="3.80"/><rect x="191.76" y="57.67" width="3.80" height="3.80"/><rect x="196.30" y="67.73" width="3.80" height="3.80"/><rect x="200.84" y="79.68" width="3.80" height="3.80"/><rect x="205.38" y="66.93" width="3.80" height="3.80"/><rect x="209.92" y="52.86" width="3.80" height="3.80"/><rect x="214.46" y="39.19" width="3.80" height="3.80"/><rect x="219.00" y="27.24" width="3.80" height="3.80"/><rect x="223.54" y="18.53" width="3.80" height="3.80"/><rect x="228.08" y="14.52" width="3.80" height="3.80"/><rect x="232.62" y="16.40" width="3.80" height="3.80"/><rect x="237.16" y="24.74" width="3.80" height="3.80"/><rect x="241.70" y="39.21" width="3.80" height="3.80"/><rect x="246.24" y="58.35" width="3.80" height="3.80"/><rect x="250.78" y="79.56" width="3.80" height="3.80"/><rect x="255.32" y="60.66" width="3.80" height="3.80"/><rect x="259.86" y="46.16" width="3.80" height="3.80"/><rect x="264.40" y="40.25" width="3.80" height="3.80"/><rect x="268.94" y="44.81" width="3.80" height="3.80"/><rect x="273.48" y="59.47" width="3.80" height="3.80"/><rect x="278.02" y="78.62" width="3.80" height="3.80"/><rect x="282.56" y="54.32" width="3.80" height="3.80"/><rect x="287.10" y="33.33" width="3.80" height="3.80"/><rect x="291.64" y="20.66" width="3.80" height="3.80"/><rect x="296.18" y="19.23" width="3.80" height="3.80"/><rect x="300.72" y="29.10" width="3.80" height="3.80"/><rect x="305.26" y="47.62" width="3.80" height="3.80"/><rect x="309.80" y="70.32" width="3.80" height="3.80"/><rect x="314.34" y="67.79" width="3.80" height="3.80"/><rect x="318.88" y="51.00" width="3.80" height="3.80"/><rect x="323.42" y="42.05" width="3.80" height="3.80"/><rect x="327.96" y="41.87" width="3.80" height="3.80"/><rect x="332.50" y="49.73" width="3.80" height="3.80"/><rect x="337.04" y="63.72" width="3.80" height="3.80"/><rect x="341.58" y="78.65" width="3.80" height="3.80"/><rect x="346.12" y="59.93" width="3.80" height="3.80"/><rect x="350.66" y="42.34" width="3.80" height="3.80"/><rect x="355.20" y="27.50" width="3.80" height="3.80"/><rect x="359.74" y="16.39" width="3.80" height="3.80"/><rect x="364.28" y="9.38" width="3.80" height="3.80"/><rect x="368.82" y="6.35" width="3.80" height="3.80"/><rect x="373.36" y="6.83" width="3.80" height="3.80"/><rect x="377.90" y="10.15" width="3.80" height="3.80"/><rect x="382.44" y="15.55" width="3.80" height="3.80"/><rect x="386.98" y="22.33" width="3.80" height="3.80"/><rect x="391.52" y="29.83" width="3.80" height="3.80"/><rect x="396.06" y="37.55" width="3.80" height="3.80"/><rect x="400.60" y="45.07" width="3.80" height="3.80"/><rect x="405.14" y="52.13" width="3.80" height="3.80"/><rect x="409.68" y="58.56" width="3.80" height="3.80"/><rect x="414.22" y="64.26" width="3.80" height="3.80"/><rect x="418.76" y="69.21" width="3.80" height="3.80"/><rect x="423.30" y="73.44" width="3.80" height="3.80"/><rect x="427.84" y="76.99" width="3.80" height="3.80"/><rect x="432.38" y="79.92" width="3.80" height="3.80"/><rect x="436.92" y="77.69" width="3.80" height="3.80"/><rect x="441.46" y="75.77" width="3.80" height="3.80"/><rect x="446.00" y="74.25" width="3.80" height="3.80"/><rect x="450.54" y="73.07" width="3.80" height="3.80"/><rect x="455.08" y="72.18" width="3.80" height="3.80"/><rect x="459.62" y="71.52" width="3.80" height="3.80"/><rect x="464.16" y="71.05" width="3.80" height="3.80"/><rect x="468.70" y="70.75" width="3.80" height="3.80"/><rect x="473.24" y="70.57" width="3.80" height="3.80"/><rect x="477.78" y="70.50" width="3.80" height="3.80"/><rect x="482.32" y="70.51" width="3.80" height="3.80"/><rect x="486.86" y="70.58" width="3.80" height="3.80"/><rect x="491.40" y="70.71" width="3.80" height="3.80"/><rect x="495.94" y="70.87" width="3.80" height="3.80"/><rect x="500.48" y="71.07" width="3.80" height="3.80"/><rect x="505.02" y="71.28" width="3.80" height="3.80"/><rect x="509.56" y="71.52" width="3.80" height="3.80"/><rect x="514.10" y="71.76" width="3.80" height="3.80"/></g>
<path fill="none" stroke="#dc1e2a" stroke-width="1.4" d="M58.90 71.80h6.20M62.00 68.70v6.20M63.44 71.19h6.20M66.54 68.09v6.20M67.98 70.55h6.20M71.08 67.45v6.20M72.52 69.87h6.20M75.62 66.77v6.20M77.06 69.15h6.20M80.16 66.05v6.20M81.60 68.40h6.20M84.70 65.30v6.20M86.14 67.60h6.20M89.24 64.50v6.20M90.68 66.78h6.20M93.78 63.68v6.20M95.22 65.92h6.20M98.32 62.82v6.20M99.76 65.04h6.20M102.86 61.94v6.20M104.30 64.15h6.20M107.40 61.05v6.20M108.84 63.25h6.20M111.94 60.15v6.20M113.38 62.36h6.20M116.48 59.26v6.20M117.92 61.51h6.20M121.02 58.41v6.20M122.46 60.73h6.20M125.56 57.63v6.20M127.00 60.05h6.20M130.10 56.95v6.20M131.54 59.52h6.20M134.64 56.42v6.20M136.08 59.20h6.20M139.18 56.10v6.20M140.62 59.18h6.20M143.72 56.08v6.20M145.16 59.54h6.20M148.26 56.44v6.20M149.70 60.39h6.20M152.80 57.29v6.20M154.24 61.87h6.20M157.34 58.77v6.20M158.78 64.09h6.20M161.88 60.99v6.20M163.32 67.22h6.20M166.42 64.12v6.20M167.86 71.39h6.20M170.96 68.29v6.20M172.40 76.73h6.20M175.50 73.63v6.20M176.94 80.51h6.20M180.04 77.41v6.20M181.48 72.70h6.20M184.58 69.60v6.20M186.02 63.76h6.20M189.12 60.66v6.20M190.56 53.93h6.20M193.66 50.83v6.20M195.10 43.62h6.20M198.20 40.52v6.20M199.64 33.44h6.20M202.74 30.34v6.20M204.18 24.20h6.20M207.28 21.10v6.20M208.72 16.83h6.20M211.82 13.73v6.20M213.26 12.37h6.20M216.36 9.27v6.20M217.80 11.78h6.20M220.90 8.68v6.20M222.34 15.84h6.20M225.44 12.74v6.20M226.88 24.85h6.20M229.98 21.75v6.20M231.42 38.53h6.20M234.52 35.43v6.20M235.96 55.79h6.20M239.06 52.69v6.20M240.50 74.71h6.20M243.60 71.61v6.20M245.04 71.14h6.20M248.14 68.04v6.20M249.58 57.15h6.20M252.68 54.05v6.20M254.12 49.95h6.20M257.22 46.85v6.20M258.66 51.47h6.20M261.76 48.37v6.20M263.20 62.09h6.20M266.30 58.99v6.20M267.74 80.20h6.20M270.84 77.10v6.20M272.28 61.55h6.20M275.38 58.45v6.20M276.82 40.43h6.20M279.92 37.33v6.20M281.36 25.23h6.20M284.46 22.13v6.20M285.90 19.70h6.20M289.00 16.60v6.20M290.44 25.23h6.20M293.54 22.13v6.20M294.98 40.43h6.20M298.08 37.33v6.20M299.52 61.55h6.20M302.62 58.45v6.20M304.06 80.20h6.20M307.16 77.10v6.20M308.60 62.09h6.20M311.70 58.99v6.20M313.14 51.47h6.20M316.24 48.37v6.20M317.68 49.95h6.20M320.78 46.85v6.20M322.22 57.15h6.20M325.32 54.05v6.20M326.76 71.14h6.20M329.86 68.04v6.20M331.30 74.71h6.20M334.40 71.61v6.20M335.84 55.79h6.20M338.94 52.69v6.20M340.38 38.53h6.20M343.48 35.43v6.20M344.92 24.85h6.20M348.02 21.75v6.20M349.46 15.84h6.20M352.56 12.74v6.20M354.00 11.78h6.20M357.10 8.68v6.20M358.54 12.37h6.20M361.64 9.27v6.20M363.08 16.83h6.20M366.18 13.73v6.20M367.62 24.20h6.20M370.72 21.10v6.20M372.16 33.44h6.20M375.26 30.34v6.20M376.70 43.62h6.20M379.80 40.52v6.20M381.24 53.93h6.20M384.34 50.83v6.20M385.78 63.76h6.20M388.88 60.66v6.20M390.32 72.70h6.20M393.42 69.60v6.20M394.86 80.51h6.20M397.96 77.41v6.20M399.40 76.73h6.20M402.50 73.63v6.20M403.94 71.39h6.20M407.04 68.29v6.20M408.48 67.22h6.20M411.58 64.12v6.20M413.02 64.09h6.20M416.12 60.99v6.20M417.56 61.87h6.20M420.66 58.77v6.20M422.10 60.39h6.20M425.20 57.29v6.20M426.64 59.54h6.20M429.74 56.44v6.20M431.18 59.18h6.20M434.28 56.08v6.20M435.72 59.20h6.20M438.82 56.10v6.20M440.26 59.52h6.20M443.36 56.42v6.20M444.80 60.05h6.20M447.90 56.95v6.20M449.34 60.73h6.20M452.44 57.63v6.20M453.88 61.51h6.20M456.98 58.41v6.20M458.42 62.36h6.20M461.52 59.26v6.20M462.96 63.25h6.20M466.06 60.15v6.20M467.50 64.15h6.20M470.60 61.05v6.20M472.04 65.04h6.20M475.14 61.94v6.20M476.58 65.92h6.20M479.68 62.82v6.20M481.12 66.78h6.20M484.22 63.68v6.20M485.66 67.60h6.20M488.76 64.50v6.20M490.20 68.40h6.20M493.30 65.30v6.20M494.74 69.15h6.20M497.84 66.05v6.20M499.28 69.87h6.20M502.38 66.77v6.20M503.82 70.55h6.20M506.92 67.45v6.20M508.36 71.19h6.20M511.46 68.09v6.20M512.90 71.80h6.20M516.00 68.70v6.20"/>
<g fill="none" stroke="#2a24b8" stroke-width="1.15"><circle cx="62.00" cy="80.79" r="2.05"/><circle cx="66.54" cy="81.14" r="2.05"/><circle cx="71.08" cy="81.56" r="2.05"/><circle cx="75.62" cy="81.75" r="2.05"/><circle cx="80.16" cy="81.18" r="2.05"/><circle cx="84.70" cy="80.50" r="2.05"/><circle cx="89.24" cy="79.72" r="2.05"/><circle cx="93.78" cy="78.80" r="2.05"/><circle cx="98.32" cy="77.74" r="2.05"/><circle cx="102.86" cy="76.51" r="2.05"/><circle cx="107.40" cy="75.08" r="2.05"/><circle cx="111.94" cy="73.44" r="2.05"/><circle cx="116.48" cy="71.55" r="2.05"/><circle cx="121.02" cy="69.37" r="2.05"/><circle cx="125.56" cy="66.88" r="2.05"/><circle cx="130.10" cy="64.05" r="2.05"/><circle cx="134.64" cy="60.83" r="2.05"/><circle cx="139.18" cy="57.21" r="2.05"/><circle cx="143.72" cy="53.17" r="2.05"/><circle cx="148.26" cy="48.70" r="2.05"/><circle cx="152.80" cy="43.82" r="2.05"/><circle cx="157.34" cy="38.58" r="2.05"/><circle cx="161.88" cy="33.07" r="2.05"/><circle cx="166.42" cy="27.45" r="2.05"/><circle cx="170.96" cy="21.92" r="2.05"/><circle cx="175.50" cy="16.79" r="2.05"/><circle cx="180.04" cy="12.45" r="2.05"/><circle cx="184.58" cy="9.35" r="2.05"/><circle cx="189.12" cy="8.03" r="2.05"/><circle cx="193.66" cy="9.06" r="2.05"/><circle cx="198.20" cy="13.00" r="2.05"/><circle cx="202.74" cy="20.28" r="2.05"/><circle cx="207.28" cy="31.16" r="2.05"/><circle cx="211.82" cy="45.56" r="2.05"/><circle cx="216.36" cy="62.97" r="2.05"/><circle cx="220.90" cy="81.42" r="2.05"/><circle cx="225.44" cy="61.60" r="2.05"/><circle cx="229.98" cy="43.43" r="2.05"/><circle cx="234.52" cy="29.27" r="2.05"/><circle cx="239.06" cy="21.47" r="2.05"/><circle cx="243.60" cy="21.90" r="2.05"/><circle cx="248.14" cy="31.43" r="2.05"/><circle cx="252.68" cy="49.48" r="2.05"/><circle cx="257.22" cy="73.71" r="2.05"/><circle cx="261.76" cy="63.70" r="2.05"/><circle cx="266.30" cy="40.27" r="2.05"/><circle cx="270.84" cy="24.97" r="2.05"/><circle cx="275.38" cy="21.71" r="2.05"/><circle cx="279.92" cy="31.85" r="2.05"/><circle cx="284.46" cy="53.54" r="2.05"/><circle cx="289.00" cy="81.90" r="2.05"/><circle cx="293.54" cy="53.54" r="2.05"/><circle cx="298.08" cy="31.85" r="2.05"/><circle cx="302.62" cy="21.71" r="2.05"/><circle cx="307.16" cy="24.97" r="2.05"/><circle cx="311.70" cy="40.27" r="2.05"/><circle cx="316.24" cy="63.70" r="2.05"/><circle cx="320.78" cy="73.71" r="2.05"/><circle cx="325.32" cy="49.48" r="2.05"/><circle cx="329.86" cy="31.43" r="2.05"/><circle cx="334.40" cy="21.90" r="2.05"/><circle cx="338.94" cy="21.47" r="2.05"/><circle cx="343.48" cy="29.27" r="2.05"/><circle cx="348.02" cy="43.43" r="2.05"/><circle cx="352.56" cy="61.60" r="2.05"/><circle cx="357.10" cy="81.42" r="2.05"/><circle cx="361.64" cy="62.97" r="2.05"/><circle cx="366.18" cy="45.56" r="2.05"/><circle cx="370.72" cy="31.16" r="2.05"/><circle cx="375.26" cy="20.28" r="2.05"/><circle cx="379.80" cy="13.00" r="2.05"/><circle cx="384.34" cy="9.06" r="2.05"/><circle cx="388.88" cy="8.03" r="2.05"/><circle cx="393.42" cy="9.35" r="2.05"/><circle cx="397.96" cy="12.45" r="2.05"/><circle cx="402.50" cy="16.79" r="2.05"/><circle cx="407.04" cy="21.92" r="2.05"/><circle cx="411.58" cy="27.45" r="2.05"/><circle cx="416.12" cy="33.07" r="2.05"/><circle cx="420.66" cy="38.58" r="2.05"/><circle cx="425.20" cy="43.82" r="2.05"/><circle cx="429.74" cy="48.70" r="2.05"/><circle cx="434.28" cy="53.17" r="2.05"/><circle cx="438.82" cy="57.21" r="2.05"/><circle cx="443.36" cy="60.83" r="2.05"/><circle cx="447.90" cy="64.05" r="2.05"/><circle cx="452.44" cy="66.88" r="2.05"/><circle cx="456.98" cy="69.37" r="2.05"/><circle cx="461.52" cy="71.55" r="2.05"/><circle cx="466.06" cy="73.44" r="2.05"/><circle cx="470.60" cy="75.08" r="2.05"/><circle cx="475.14" cy="76.51" r="2.05"/><circle cx="479.68" cy="77.74" r="2.05"/><circle cx="484.22" cy="78.80" r="2.05"/><circle cx="488.76" cy="79.72" r="2.05"/><circle cx="493.30" cy="80.50" r="2.05"/><circle cx="497.84" cy="81.18" r="2.05"/><circle cx="502.38" cy="81.75" r="2.05"/><circle cx="506.92" cy="81.56" r="2.05"/><circle cx="511.46" cy="81.14" r="2.05"/><circle cx="516.00" cy="80.79" r="2.05"/></g>
</g>
<g font-size="15" text-anchor="end">
<text x="56.3" y="10.10">0.10</text>
<text x="56.3" y="25.86">0.08</text>
<text x="56.3" y="40.92">0.06</text>
<text x="56.3" y="55.98">0.04</text>
<text x="56.3" y="71.04">0.02</text>
<text x="56.3" y="86.10">0.00</text>
</g>
<g font-size="17" text-anchor="end">
<text x="56.3" y="100.00">1.0</text>
<text x="56.3" y="168.80">0.5</text>
<text x="56.3" y="237.60">0.0</text>
<text x="56.3" y="306.40">-0.5</text>
<text x="56.3" y="375.20">-1.0</text>
</g>
<g font-size="17" text-anchor="middle">
<text x="62.00" y="403.7">-4</text>
<text x="175.50" y="403.7">-2</text>
<text x="289.00" y="403.7">0</text>
<text x="402.50" y="403.7">2</text>
<text x="516.00" y="403.7">4</text>
</g>
<text x="256" y="432" font-size="29" font-weight="bold">E-E<tspan font-size="22" dy="6">0</tspan></text>
<text transform="translate(22,269.1) rotate(-90)" font-size="29" font-weight="bold">L<tspan font-size="19.5" dy="5">μ=3</tspan><tspan dy="-5" dx="3.5">(E)</tspan></text>
<g font-weight="bold" font-size="21.5">
<text transform="translate(17.7,60.9) rotate(-90)">ΔL</text>
<text transform="translate(14.07,67.3) rotate(-90) scale(1,0.755)">|</text>
<text transform="translate(14.07,31.3) rotate(-90) scale(1,0.755)">|</text>
</g>
<text x="463.6" y="40.4" font-size="32">(b)</text>
<text x="457.8" y="122.7" font-size="32">(a)</text>
<text x="303.8" y="123.5" font-size="26">(Γ=γ=0.61)</text>
<text x="304.3" y="148.8" font-size="26">Equal</text>
<circle cx="91" cy="129.4" r="5.3" fill="none" stroke="#2a24b8" stroke-width="1.3"/>
<rect x="85.7" y="146.1" width="11.3" height="11.3" fill="#000"/>
<path d="M85.1 174.2h11.9M91.1 168.4v11.6" stroke="#dc1e2a" stroke-width="1.4" fill="none"/>
<text font-size="20.2" transform="translate(117.90,135.20) scale(1.400,1)">ϕ</text><text font-size="20.5" transform="translate(139.65,135.20) scale(1.140,1)">=</text><text font-size="20.5" transform="translate(158.76,135.20) scale(1.180,1)">0</text>
<text font-size="20.2" transform="translate(117.90,157.30) scale(1.400,1)">ϕ</text><text font-size="20.5" transform="translate(139.65,157.30) scale(1.140,1)">=</text><text font-size="20.5" transform="translate(158.90,157.30) scale(1.000,1)">π/4</text>
<text font-size="20.2" transform="translate(117.90,179.30) scale(1.400,1)">ϕ</text><text font-size="20.5" transform="translate(139.65,179.30) scale(1.140,1)">=</text><text font-size="20.5" transform="translate(158.90,179.30) scale(1.000,1)">π/2</text>
<line x1="87" y1="300.8" x2="121.5" y2="300.8" stroke="#1e1eb0" stroke-width="2" stroke-dasharray="4.3,4.2"/>
<line x1="87" y1="323.2" x2="121.5" y2="323.2" stroke="#000" stroke-width="2"/>
<line x1="87" y1="346.2" x2="121.5" y2="346.2" stroke="#c8142e" stroke-width="2" stroke-dasharray="2,2.2"/>
<text font-size="20.5" transform="translate(130.58,306.80) scale(1.080,1)">Fit</text><text font-size="20.2" transform="translate(162.20,306.80) scale(1.400,1)">ϕ</text><text font-size="20.5" transform="translate(183.95,306.80) scale(1.140,1)">=</text><text font-size="20.5" transform="translate(203.06,306.80) scale(1.180,1)">0</text>
<text font-size="20.5" transform="translate(130.58,329.30) scale(1.080,1)">Fit</text><text font-size="20.2" transform="translate(162.20,329.30) scale(1.400,1)">ϕ</text><text font-size="20.5" transform="translate(183.95,329.30) scale(1.140,1)">=</text><text font-size="20.5" transform="translate(203.20,329.30) scale(1.000,1)">π/4</text>
<text font-size="20.5" transform="translate(130.58,352.00) scale(1.080,1)">Fit</text><text font-size="20.2" transform="translate(162.20,352.00) scale(1.400,1)">ϕ</text><text font-size="20.5" transform="translate(183.95,352.00) scale(1.140,1)">=</text><text font-size="20.5" transform="translate(203.20,352.00) scale(1.000,1)">π/2</text>
<text y="337.3" font-size="31.5"><tspan x="376.8">Γ</tspan><tspan x="396" font-size="21" dy="6">fit</tspan><tspan x="413.2" dy="-6">=</tspan><tspan x="434.5" font-size="30.5">1.24</tspan></text>
</svg></body></html>
